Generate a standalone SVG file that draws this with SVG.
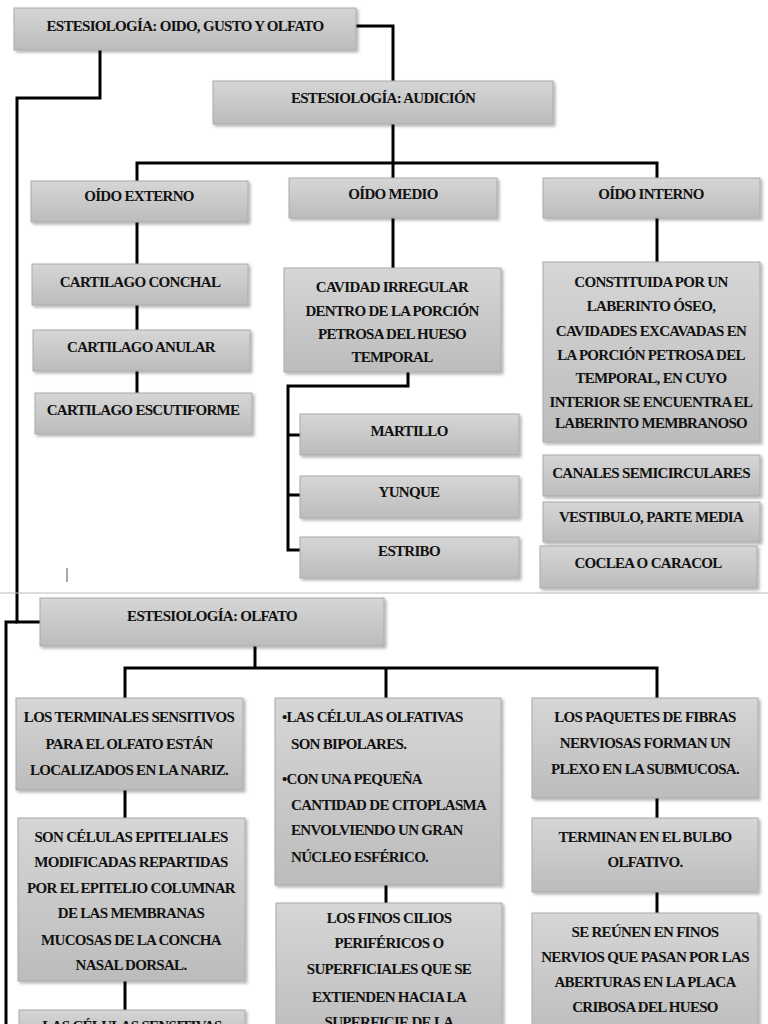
<svg xmlns="http://www.w3.org/2000/svg" width="768" height="1024" viewBox="0 0 768 1024">
<defs>
<linearGradient id="g" x1="0" y1="0" x2="0" y2="1"><stop offset="0" stop-color="#d6d6d6"/><stop offset="1" stop-color="#bcbcbc"/></linearGradient>
<filter id="sh" x="-5%" y="-5%" width="115%" height="120%"><feDropShadow dx="2" dy="2" stdDeviation="1.5" flood-color="#000" flood-opacity="0.3"/></filter>
</defs>
<style>
rect.b{fill:url(#g);stroke:#aaa;stroke-width:1;filter:url(#sh)}
text{font-family:"Liberation Serif","Times New Roman",serif;font-weight:bold;font-size:15px;fill:#111;text-anchor:middle;letter-spacing:-0.7px}
text.l{text-anchor:start}
.c{fill:none;stroke:#000;stroke-width:3}
</style>
<rect width="768" height="1024" fill="#fff"/>
<g id="connectors">
<polyline class="c" points="356,26 393,26 393,82"/>
<polyline class="c" points="100,50 100,98 17,98 17,622 40,622"/>
<polyline class="c" points="6,1024 6,622 17,622"/>
<line class="c" x1="393" y1="124" x2="393" y2="163"/>
<polyline class="c" points="137,181 137,163 657,163 657,178"/>
<line class="c" x1="393" y1="163" x2="393" y2="178"/>
<line class="c" x1="137" y1="222" x2="137" y2="393"/>
<line class="c" x1="393" y1="218" x2="393" y2="268"/>
<polyline class="c" points="408,372 408,386 288,386 288,550 300,550"/>
<line class="c" x1="288" y1="435" x2="300" y2="435"/>
<line class="c" x1="288" y1="495" x2="300" y2="495"/>
<line class="c" x1="657" y1="218" x2="657" y2="262"/>
<line x1="0" y1="593" x2="768" y2="593" stroke="#bbb" stroke-width="1"/>
<line x1="67" y1="568" x2="67" y2="582" stroke="#555" stroke-width="1"/>
<line class="c" x1="255" y1="646" x2="255" y2="668"/>
<polyline class="c" points="125,698 125,668 657,668 657,698"/>
<line class="c" x1="386" y1="668" x2="386" y2="698"/>
<line class="c" x1="125" y1="790" x2="125" y2="1010"/>
<line class="c" x1="386" y1="885" x2="386" y2="903"/>
<line class="c" x1="657" y1="798" x2="657" y2="913"/>
</g>
<g id="n1"><rect class="b" x="14" y="8" width="342" height="42"/><text x="185" y="31">ESTESIOLOGÍA: OIDO, GUSTO Y OLFATO</text></g>
<g id="n2"><rect class="b" x="213" y="81" width="340" height="43"/><text x="383" y="103">ESTESIOLOGÍA: AUDICIÓN</text></g>
<g id="n3"><rect class="b" x="31" y="181" width="217" height="41"/><text x="139" y="201">OÍDO EXTERNO</text></g>
<g id="n4"><rect class="b" x="289" y="178" width="208" height="40"/><text x="393" y="199">OÍDO MEDIO</text></g>
<g id="n5"><rect class="b" x="543" y="178" width="217" height="40"/><text x="651" y="199">OÍDO INTERNO</text></g>
<g id="n6"><rect class="b" x="32" y="264" width="216" height="41"/><text x="140" y="287">CARTILAGO CONCHAL</text></g>
<g id="n7"><rect class="b" x="33" y="330" width="217" height="41"/><text x="141" y="352">CARTILAGO ANULAR</text></g>
<g id="n8"><rect class="b" x="35" y="393" width="217" height="41"/><text x="143" y="415">CARTILAGO ESCUTIFORME</text></g>
<g id="n9"><rect class="b" x="284" y="268" width="217" height="104"/><text x="392" y="292">CAVIDAD IRREGULAR</text><text x="392" y="316">DENTRO DE LA PORCIÓN</text><text x="392" y="339">PETROSA DEL HUESO</text><text x="392" y="362">TEMPORAL</text></g>
<g id="n10"><rect class="b" x="300" y="414" width="219" height="41"/><text x="409" y="436">MARTILLO</text></g>
<g id="n11"><rect class="b" x="300" y="476" width="219" height="42"/><text x="409" y="497">YUNQUE</text></g>
<g id="n12"><rect class="b" x="300" y="537" width="219" height="41"/><text x="409" y="556">ESTRIBO</text></g>
<g id="n13"><rect class="b" x="543" y="262" width="217" height="180"/><text x="651" y="287">CONSTITUIDA POR UN</text><text x="651" y="311">LABERINTO ÓSEO,</text><text x="651" y="336">CAVIDADES EXCAVADAS EN</text><text x="651" y="360">LA PORCIÓN PETROSA DEL</text><text x="651" y="383">TEMPORAL, EN CUYO</text><text x="651" y="407">INTERIOR SE ENCUENTRA EL</text><text x="651" y="428">LABERINTO MEMBRANOSO</text></g>
<g id="n14"><rect class="b" x="543" y="455" width="217" height="41"/><text x="651" y="478">CANALES SEMICIRCULARES</text></g>
<g id="n15"><rect class="b" x="543" y="502" width="217" height="40"/><text x="651" y="522">VESTIBULO, PARTE MEDIA</text></g>
<g id="n16"><rect class="b" x="540" y="546" width="217" height="42"/><text x="648" y="568">COCLEA O CARACOL</text></g>
<g id="n17"><rect class="b" x="40" y="598" width="344" height="48"/><text x="212" y="621">ESTESIOLOGÍA: OLFATO</text></g>
<g id="n18"><rect class="b" x="16" y="698" width="227" height="92"/><text x="129" y="722">LOS TERMINALES SENSITIVOS</text><text x="129" y="749">PARA EL OLFATO ESTÁN</text><text x="129" y="775">LOCALIZADOS EN LA NARIZ.</text></g>
<g id="n19"><rect class="b" x="18" y="818" width="227" height="163"/><text x="131" y="842">SON CÉLULAS EPITELIALES</text><text x="131" y="867">MODIFICADAS REPARTIDAS</text><text x="131" y="893">POR EL EPITELIO COLUMNAR</text><text x="131" y="918">DE LAS MEMBRANAS</text><text x="131" y="945">MUCOSAS DE LA CONCHA</text><text x="131" y="970">NASAL DORSAL.</text></g>
<g id="n20"><rect class="b" x="19" y="1010" width="226" height="30"/><text x="132" y="1031">LAS CÉLULAS SENSITIVAS</text></g>
<g id="n21"><rect class="b" x="275" y="698" width="226" height="187"/><text class="l" x="282" y="722">•LAS CÉLULAS OLFATIVAS</text><text class="l" x="291" y="749">SON BIPOLARES.</text><text class="l" x="282" y="784">•CON UNA PEQUEÑA</text><text class="l" x="291" y="810">CANTIDAD DE CITOPLASMA</text><text class="l" x="291" y="835">ENVOLVIENDO UN GRAN</text><text class="l" x="291" y="862">NÚCLEO ESFÉRICO.</text></g>
<g id="n22"><rect class="b" x="276" y="903" width="226" height="140"/><text x="389" y="923">LOS FINOS CILIOS</text><text x="389" y="948">PERIFÉRICOS O</text><text x="389" y="974">SUPERFICIALES QUE SE</text><text x="389" y="1002">EXTIENDEN HACIA LA</text><text x="389" y="1027">SUPERFICIE DE LA</text></g>
<g id="n23"><rect class="b" x="532" y="698" width="226" height="100"/><text x="645" y="722">LOS PAQUETES DE FIBRAS</text><text x="645" y="748">NERVIOSAS FORMAN UN</text><text x="645" y="774">PLEXO EN LA SUBMUCOSA.</text></g>
<g id="n24"><rect class="b" x="532" y="818" width="226" height="74"/><text x="645" y="842">TERMINAN EN EL BULBO</text><text x="645" y="867">OLFATIVO.</text></g>
<g id="n25"><rect class="b" x="532" y="913" width="226" height="130"/><text x="645" y="937">SE REÚNEN EN FINOS</text><text x="645" y="962">NERVIOS QUE PASAN POR LAS</text><text x="645" y="987">ABERTURAS EN LA PLACA</text><text x="645" y="1012">CRIBOSA DEL HUESO</text></g>
</svg>
